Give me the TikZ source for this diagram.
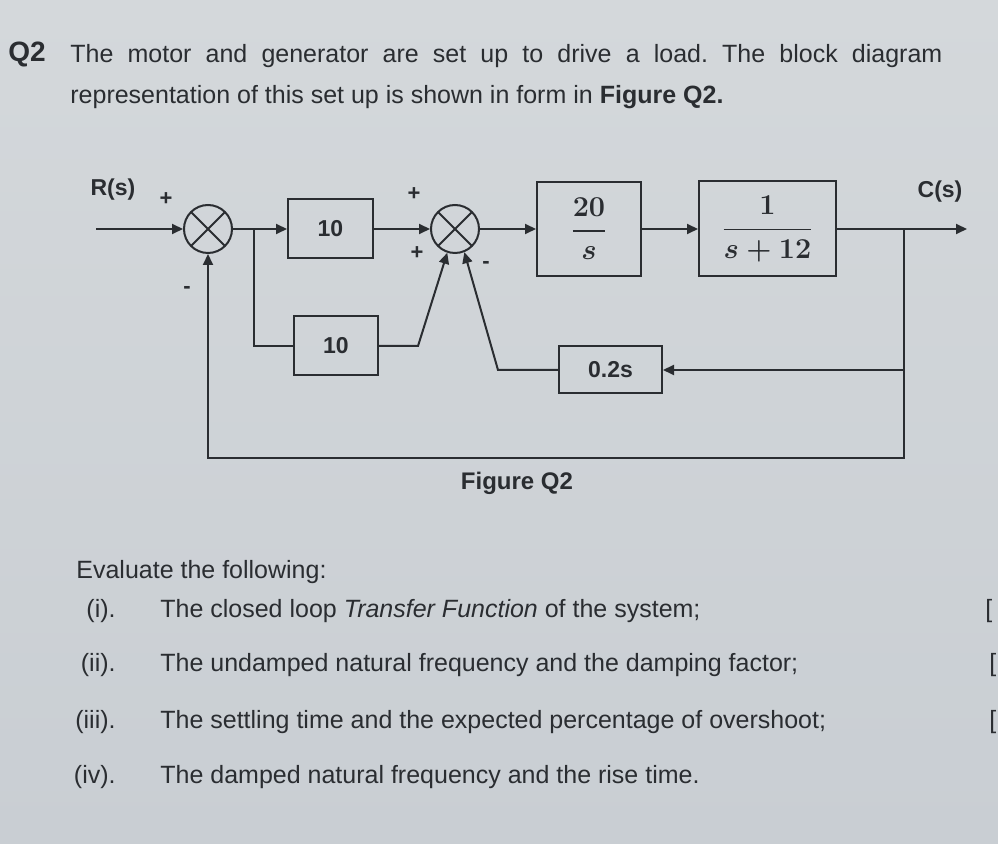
\documentclass[tikz,border=0pt]{standalone}
\usepackage[no-math]{fontspec}
\setmainfont{Liberation Sans}
\usepackage{amsmath}
\usepackage{tikz}
\usetikzlibrary{arrows.meta,calc}
\frenchspacing
\definecolor{q2ink}{HTML}{2A2D31}
\definecolor{q2papertop}{HTML}{D4D8DB}
\definecolor{q2paperbot}{HTML}{C9CED3}
\tikzset{
  txt/.style     = {inner sep=0pt, text=q2ink, font=\fontsize{12.5}{15}\selectfont},
  block/.style   = {rectangle, draw=q2ink, line width=1pt, inner sep=2pt, text=q2ink,
                    font=\bfseries\fontsize{11.5}{13}\selectfont},
  tfblock/.style = {block, font=\boldmath\fontsize{13.5}{16}\selectfont},
  % the cross is clipped by the circle itself
  sumnode/.style = {circle, draw=q2ink, line width=1pt, minimum size=24pt, inner sep=0pt,
                    path picture={\draw[q2ink, line width=0.9pt]
                      (path picture bounding box.south west) -- (path picture bounding box.north east)
                      (path picture bounding box.north west) -- (path picture bounding box.south east);}},
  flow/.style    = {-{Triangle[length=5.5pt,width=5pt]}, line width=1pt, draw=q2ink},
  wire/.style    = {line width=1pt, draw=q2ink},
  sgn/.style     = {inner sep=0pt, text=q2ink, font=\bfseries\fontsize{11}{12}\selectfont},
  lbl/.style     = {inner sep=0pt, text=q2ink, font=\bfseries\fontsize{11.5}{13}\selectfont},
}

\begin{document}
\begin{tikzpicture}[x=0.5pt, y=-0.5pt]
\shade[top color=q2papertop, bottom color=q2paperbot] (0,0) rectangle (998,844);
\useasboundingbox (0,0) rectangle (998,844);

% question
\node[txt, anchor=base west, font=\bfseries\fontsize{14}{16}\selectfont] (qnum) at (8,62) {Q2};
\node[txt, anchor=base west] (qline1) at (70,63)
  {\makebox[436pt][s]{The motor and generator are set up to drive a load. The block diagram}};
\node[txt, anchor=base west] (qline2) at (70,104)
  {representation of this set up is shown in form in \textbf{Figure Q2.}};

% block diagram
\node[sumnode] (sum1) at (208,229) {};
\node[block, minimum width=42.5pt, minimum height=29.5pt] (blkA) at (330.5,229) {10};
\node[sumnode] (sum2) at (455,229) {};
\node[tfblock, minimum width=52pt, minimum height=47pt] (blkB) at (589,229) {$\dfrac{20}{s}$};
\node[tfblock, minimum width=68.5pt, minimum height=47.5pt] (blkC) at (767.5,229) {$\dfrac{1}{s+12}$};
\node[block, minimum width=42pt, minimum height=29.5pt] (blkD) at (336,346) {10};
\node[block, minimum width=51.5pt, minimum height=23.5pt] (blkE) at (610.5,370) {0.2s};

\coordinate (rin)   at (96,229);
\coordinate (cout)  at (967,229);
\coordinate (br1)   at (254,229);
\coordinate (br2)   at (904,229);
\coordinate (kneeD) at (418,346);
\coordinate (kneeE) at (498,370);
\coordinate (fbcor) at (904,458);

\draw[flow] (rin) -- (sum1.west);
\draw[flow] (sum1.east) -- (blkA.west);
\draw[wire] (br1) |- (blkD.west);
\draw[flow] (blkA.east) -- (sum2.west);
\draw[flow] (blkD.east) -- (kneeD) -- (sum2.252);
\draw[flow] (blkE.west) -- (kneeE) -- (sum2.292);
\draw[flow] (sum2.east) -- (blkB.west);
\draw[flow] (blkB.east) -- (blkC.west);
\draw[flow] (blkC.east) -- (cout);
\draw[flow] (br2) |- (blkE.east);
\draw[flow] (br2) -- (fbcor) -| (sum1.south);

\node[lbl] (rlbl) at (113,190) {R(s)};
\node[lbl] (clbl) at (940,192) {C(s)};
\node[sgn] (s1p) at (166,199) {+};
\node[sgn] (s1m) at (187,290) {-};
\node[sgn] (s2a) at (414,194) {+};
\node[sgn] (s2b) at (417,253) {+};
\node[sgn] (s2m) at (486,265) {-};

\node[txt, font=\bfseries\fontsize{12}{14}\selectfont] (figcap) at (517,483) {Figure Q2};

% tasks
\node[txt, anchor=base west] (evalhd) at (76,579) {Evaluate the following:};
\foreach \tag/\yy/\body in {
    (i)./618/{The closed loop \textit{Transfer Function} of the system;},
    (ii)./672/{The undamped natural frequency and the damping factor;},
    (iii)./729/{The settling time and the expected percentage of overshoot;},
    (iv)./784/{The damped natural frequency and the rise time.}}{
  \node[txt, anchor=base east] (tag\yy) at (116,\yy) {\tag};
  \node[txt, anchor=base west] (task\yy) at (160,\yy) {\body};
}
\node[txt, anchor=base west] (brk1) at (985,618) {[};
\node[txt, anchor=base west] (brk2) at (989,672) {[};
\node[txt, anchor=base west] (brk3) at (989,729) {[};
\end{tikzpicture}
\end{document}
